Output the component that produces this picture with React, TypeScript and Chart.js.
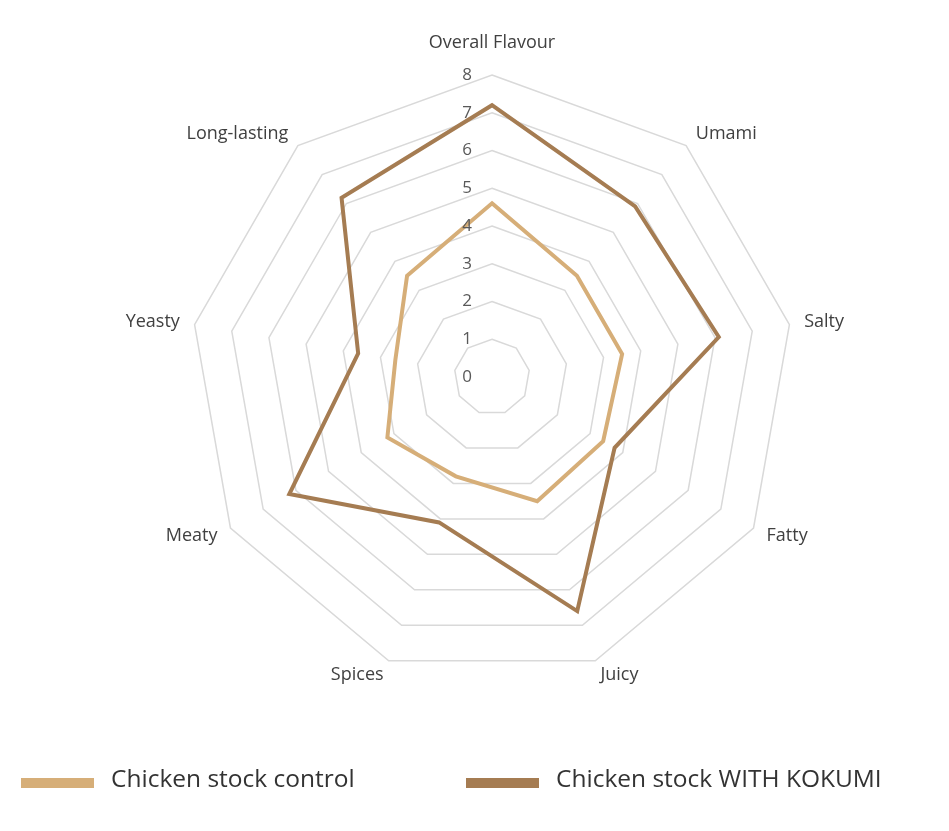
import React, { useEffect, useRef } from 'react';
import { Chart, registerables } from 'chart.js';

Chart.register(...registerables);

const attributes = [
    'Overall Flavour', 'Umami', 'Salty', 'Fatty', 'Juicy',
    'Spices', 'Meaty', 'Yeasty', 'Long-lasting',
];
const controlValues = [4.6, 3.5, 3.5, 3.4, 3.5, 2.8, 3.2, 2.6, 3.5];
const kokumiValues = [7.2, 5.9, 6.1, 3.75, 6.6, 4.1, 6.2, 3.6, 6.2];
const tickValues = [0, 1, 2, 3, 4, 5, 6, 7, 8];

const seriesNames = ['Chicken stock control', 'Chicken stock WITH KOKUMI'];
const seriesColors = ['#d6ae78', '#a57c52'];

// draws the ring numbers a little left of the vertical axis, and the attribute names
const labelsPlugin = {
    id: 'radarLabels',
    afterDatasetsDraw(chart: any) {
        const scale = chart.scales.r;
        const ctx = chart.ctx;
        ctx.save();

        ctx.font = '17px "Open Sans"';
        ctx.fillStyle = '#595959';
        ctx.textAlign = 'center';
        ctx.textBaseline = 'middle';
        tickValues.forEach((v) => {
            const d = scale.getDistanceFromCenterForValue(v);
            ctx.fillText(String(v), scale.xCenter - 25, scale.yCenter - d);
        });

        ctx.font = '18px "Open Sans"';
        ctx.fillStyle = '#404040';
        attributes.forEach((name, i) => {
            const extra = i === 0 ? 32 : 15;
            const p = scale.getPointPosition(i, scale.drawingArea + extra);
            const dx = p.x - scale.xCenter;
            ctx.textAlign = Math.abs(dx) < 2 ? 'center' : dx > 0 ? 'left' : 'right';
            ctx.fillText(name, p.x, p.y);
        });
        ctx.restore();
    },
};

const App: React.FC = () => {
    const canvasRef = useRef<HTMLCanvasElement>(null);

    useEffect(() => {
        if (!canvasRef.current) return;
        const chart = new Chart(canvasRef.current, {
            type: 'radar',
            data: {
                labels: attributes,
                datasets: [
                    {
                        label: seriesNames[0],
                        data: controlValues,
                        borderColor: seriesColors[0],
                        backgroundColor: 'transparent',
                        borderWidth: 4,
                        pointRadius: 0,
                        fill: false,
                    },
                    {
                        label: seriesNames[1],
                        data: kokumiValues,
                        borderColor: seriesColors[1],
                        backgroundColor: 'transparent',
                        borderWidth: 4,
                        pointRadius: 0,
                        fill: false,
                    },
                ],
            },
            options: {
                responsive: true,
                maintainAspectRatio: false,
                animation: false,
                layout: { padding: { left: 190, top: 75, right: 155, bottom: 152 } },
                plugins: {
                    legend: { display: false },
                    tooltip: { enabled: false },
                },
                scales: {
                    r: {
                        min: 0,
                        max: 8,
                        ticks: { display: false, stepSize: 1 },
                        pointLabels: { display: false },
                        angleLines: { display: false },
                        grid: { color: '#d9d9d9', lineWidth: 1.5 },
                    },
                },
            },
            plugins: [labelsPlugin],
        });
        return () => chart.destroy();
    }, []);

    return (
        <div style={{ position: 'fixed', left: 0, top: 0, width: 949, height: 831, background: '#fff' }}>
            <canvas ref={canvasRef}></canvas>
            <div style={{ position: 'absolute', left: 0, top: 759, width: 949, fontFamily: '"Open Sans"', fontSize: 24.5, color: '#333' }}>
                {seriesNames.map((name, i) => (
                    <div key={name} style={{ position: 'absolute', left: i === 0 ? 21 : 466, top: 0, display: 'flex', alignItems: 'center', height: 36 }}>
                        <span style={{ display: 'inline-block', width: 73, height: 10, background: seriesColors[i], marginRight: 17, marginTop: 12 }}></span>
                        <span>{name}</span>
                    </div>
                ))}
            </div>
        </div>
    );
};

export default App;
